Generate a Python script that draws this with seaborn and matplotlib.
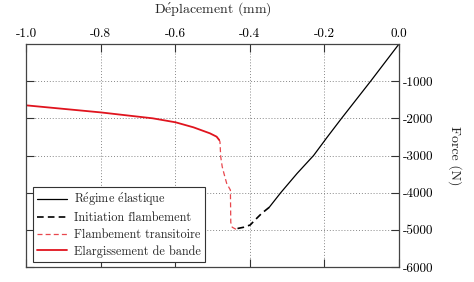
import matplotlib
matplotlib.use("Agg")
import matplotlib.pyplot as plt
import seaborn as sns
import pandas as pd

# Data
elastic_x = [0.0, -0.038, -0.076, -0.115, -0.154, -0.192, -0.229, -0.273, -0.317, -0.348]
elastic_y = [0, -500, -1000, -1500, -2000, -2500, -3000, -3480, -4000, -4395]

init_x = [-0.348, -0.368, -0.386, -0.399, -0.417, -0.431, -0.437]
init_y = [-4395, -4556, -4735, -4870, -4932, -4960, -4985]

trans_x = [-0.437, -0.447, -0.451, -0.452, -0.462, -0.467, -0.474, -0.478, -0.480, -0.482]
trans_y = [-4985, -4932, -4800, -3930, -3750, -3570, -3300, -3030, -2630, -2583]

band_x = [-0.482, -0.489, -0.507, -0.551, -0.599, -0.66, -0.80, -1.0]
band_y = [-2583, -2493, -2403, -2242, -2107, -2000, -1840, -1650]

labels = [r"R$\mathrm{\acute{e}}$gime $\mathrm{\acute{e}}$lastique", "Initiation flambement",
          "Flambement transitoire", "Elargissement de bande"]

xticks = [-1.0, -0.8, -0.6, -0.4, -0.2, 0.0]
yticks = [-6000, -5000, -4000, -3000, -2000, -1000]

sns.set_style("white")
plt.rcParams['font.family'] = ['cmr10', 'DejaVu Serif']
plt.rcParams['mathtext.fontset'] = 'cm'
plt.rcParams['mathtext.rm'] = 'cmr10'
plt.rcParams['axes.unicode_minus'] = False
plt.rcParams['axes.formatter.use_mathtext'] = False

fig = plt.figure(figsize=(4.74, 2.82), dpi=100)
ax = fig.add_axes([26/474, 1 - 267/282, (399-26)/474, (267-44)/282])

def seg(x, y, color, ls, lw, label):
    df = pd.DataFrame({"x": x, "y": y})
    sns.lineplot(data=df, x="x", y="y", ax=ax, color=color, linestyle=ls,
                 linewidth=lw, label=label, sort=False, estimator=None)

seg(elastic_x, elastic_y, "black", "-", 0.9, labels[0])
seg(init_x, init_y, "black", (0, (4, 2.5)), 1.2, labels[1])
seg(trans_x, trans_y, "#e8474d", (0, (4, 2.5)), 0.9, labels[2])
seg(band_x, band_y, "#e0141e", "-", 1.3, labels[3])

ax.set_xlim(-1.0, 0.0)
ax.set_ylim(-6000, 0)
ax.set_xticks(xticks)
ax.set_xticklabels([f"{v:.1f}" for v in xticks])
ax.set_yticks(yticks)
ax.set_yticklabels([str(v) for v in yticks])

ax.xaxis.tick_top()
ax.xaxis.set_label_position("top")
ax.yaxis.tick_right()
ax.yaxis.set_label_position("right")
ax.tick_params(axis="both", which="both", direction="in", length=6, width=0.8,
               colors="#333333", labelcolor="black", labelsize=9.5,
               top=True, bottom=True, left=True, right=True,
               labeltop=True, labelbottom=False, labelleft=False, labelright=True,
               pad=3)

ax.grid(True, linestyle=(0, (1, 2)), color="#888888", linewidth=0.7)
for s in ax.spines.values():
    s.set_color("#444444")
    s.set_linewidth(0.9)

ax.set_xlabel(r"D$\mathrm{\acute{e}}$placement (mm)", fontsize=10, labelpad=11)
ax.set_ylabel("Force (N)", fontsize=10, rotation=270, labelpad=20)

leg = ax.legend(loc="lower left", fontsize=8.8, frameon=True, fancybox=False,
                edgecolor="#333333", framealpha=1, handlelength=2.4,
                borderpad=0.35, labelspacing=0.35, handletextpad=0.6,
                borderaxespad=0, bbox_to_anchor=(7/373, 5/223))
leg.get_frame().set_linewidth(0.8)

fig.savefig("out.png", dpi=100)
